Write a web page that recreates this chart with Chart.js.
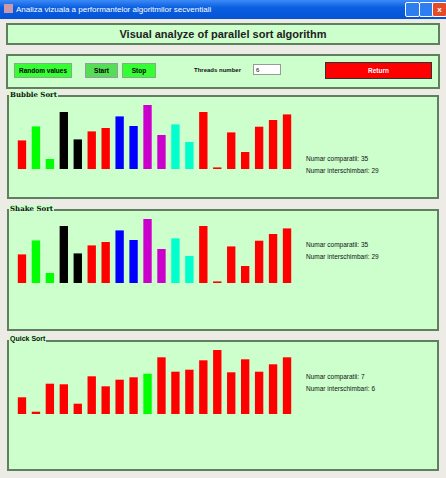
<!DOCTYPE html>
<html><head><meta charset="utf-8">
<script src="https://cdn.jsdelivr.net/npm/chart.js"></script>
<style>
body{margin:0;width:446px;height:478px;background:#ecebe6;font-family:"Liberation Sans",Arial,sans-serif;position:relative;overflow:hidden}
.abs{position:absolute}
.tb{left:0;top:0;width:446px;height:19px;background:linear-gradient(#3d8af7,#0a5fe0 40%,#0553d6);color:#fff;font-size:8px;line-height:19px}
.pan{background:#ccffcc;border:2px solid #5f7f5f;box-sizing:border-box}
.btn{background:#33ff33;border:1px solid #8a8;font-size:6.5px;font-weight:bold;text-align:center;box-sizing:border-box;line-height:13px}
.leg{font-size:7px;font-weight:bold;font-family:"DejaVu Serif",serif;background:#ccffcc;padding:0 1px;color:#111}
.txt{font-size:6.5px;color:#111}
</style></head><body>
<div class="abs tb"><span style="display:inline-block;width:9px;height:9px;background:#c9a;margin:0 3px 0 4px;vertical-align:-1px"></span>Analiza vizuala a performantelor algoritmilor secventiali
<span class="abs" style="left:405px;top:2px;width:13px;height:13px;background:#2f7ef0;border:1px solid #fff;border-radius:2px"></span>
<span class="abs" style="left:419px;top:2px;width:13px;height:13px;background:#2f7ef0;border:1px solid #fff;border-radius:2px"></span>
<span class="abs" style="left:432px;top:2px;width:13px;height:13px;background:#e34b2a;border:1px solid #fff;border-radius:2px;color:#fff;font-weight:bold;text-align:center;line-height:13px">x</span></div>
<div class="abs pan" style="left:6px;top:23px;width:434px;height:22px;text-align:center;font-size:11px;font-weight:bold;line-height:18px;color:#222">Visual analyze of parallel sort algorithm</div>
<div class="abs pan" style="left:6px;top:54px;width:434px;height:35px"></div>
<div class="abs btn" style="left:14px;top:63px;width:58px;height:15px">Random values</div>
<div class="abs btn" style="left:85px;top:63px;width:33px;height:15px;background:#55dd55;border-color:#99a">Start</div>
<div class="abs btn" style="left:122px;top:63px;width:34px;height:15px">Stop</div>
<div class="abs txt" style="left:194px;top:67px;font-weight:bold;font-size:6px">Threads number</div>
<div class="abs" style="left:253px;top:64px;width:28px;height:11px;background:#fff;border:1px solid #999;font-size:6px;line-height:11px;box-sizing:border-box;padding-left:2px">6</div>
<div class="abs btn" style="left:325px;top:62px;width:107px;height:17px;background:#ff0000;border:1px solid #333;color:#fff;line-height:15px">Return</div>

<div class="abs pan" style="left:7px;top:95px;width:432px;height:104px"></div>
<div class="abs leg" style="left:9px;top:90px">Bubble Sort</div>
<div class="abs pan" style="left:7px;top:209px;width:432px;height:122px"></div>
<div class="abs leg" style="left:9px;top:204px">Shake Sort</div>
<div class="abs pan" style="left:7px;top:340px;width:432px;height:131px"></div>
<div class="abs leg" style="left:9px;top:335px;font-family:'Liberation Sans',Arial,sans-serif">Quick Sort</div>

<div class="abs txt" style="left:306px;top:155px">Numar comparatii: 35</div>
<div class="abs txt" style="left:306px;top:167px">Numar interschimbari: 29</div>
<div class="abs txt" style="left:306px;top:241px">Numar comparatii: 35</div>
<div class="abs txt" style="left:306px;top:253px">Numar interschimbari: 29</div>
<div class="abs txt" style="left:306px;top:373px">Numar comparatii: 7</div>
<div class="abs txt" style="left:306px;top:385px">Numar interschimbari: 6</div>

<div class="abs" style="left:15px;top:100px;width:279px;height:69px"><canvas id="c1"></canvas></div>
<div class="abs" style="left:15px;top:214px;width:279px;height:69px"><canvas id="c2"></canvas></div>
<div class="abs" style="left:15px;top:345px;width:279px;height:69px"><canvas id="c3"></canvas></div>
<script>
const categories=Array.from({length:20},(_, i)=>String(i+1));
const bubbleValues=[28.6,42.6,10,57,29.6,37.6,41,52.6,43,64,34,44.6,27,57,1.6,36.6,17,42.3,49,54.6];
const bubbleColors=['#ff0000','#00ff00','#00ff00','#000000','#000000','#ff0000','#ff0000','#0000ff','#0000ff','#cc00cc','#cc00cc','#00ffcc','#00ffcc','#ff0000','#ff0000','#ff0000','#ff0000','#ff0000','#ff0000','#ff0000'];
const shakeValues=[28.6,42.6,10,57,29.6,37.6,41,52.6,43,64,34,44.6,27,57,1.6,36.6,17,42.3,49,54.6];
const shakeColors=bubbleColors.slice();
const quickValues=[16.7,2.3,30.3,29.7,10.3,37.7,27.7,34.3,36.7,40.3,56.7,42.3,44.3,53.7,64,41.7,54.7,42.3,49.7,56.7];
const quickColors=quickValues.map((v,i)=>i===9?'#00ff00':'#ff0000');
function mk(id,vals,cols){
 new Chart(document.getElementById(id),{type:'bar',
  data:{labels:categories,datasets:[{data:vals,backgroundColor:cols,barPercentage:0.6,categoryPercentage:1}]},
  options:{responsive:true,maintainAspectRatio:false,animation:false,
   plugins:{legend:{display:false},tooltip:{enabled:false}},
   layout:{padding:0},
   scales:{x:{display:false},y:{display:false,min:0,max:69}}}});
}
mk('c1',bubbleValues,bubbleColors);
mk('c2',shakeValues,shakeColors);
mk('c3',quickValues,quickColors);
</script>
</body></html>
